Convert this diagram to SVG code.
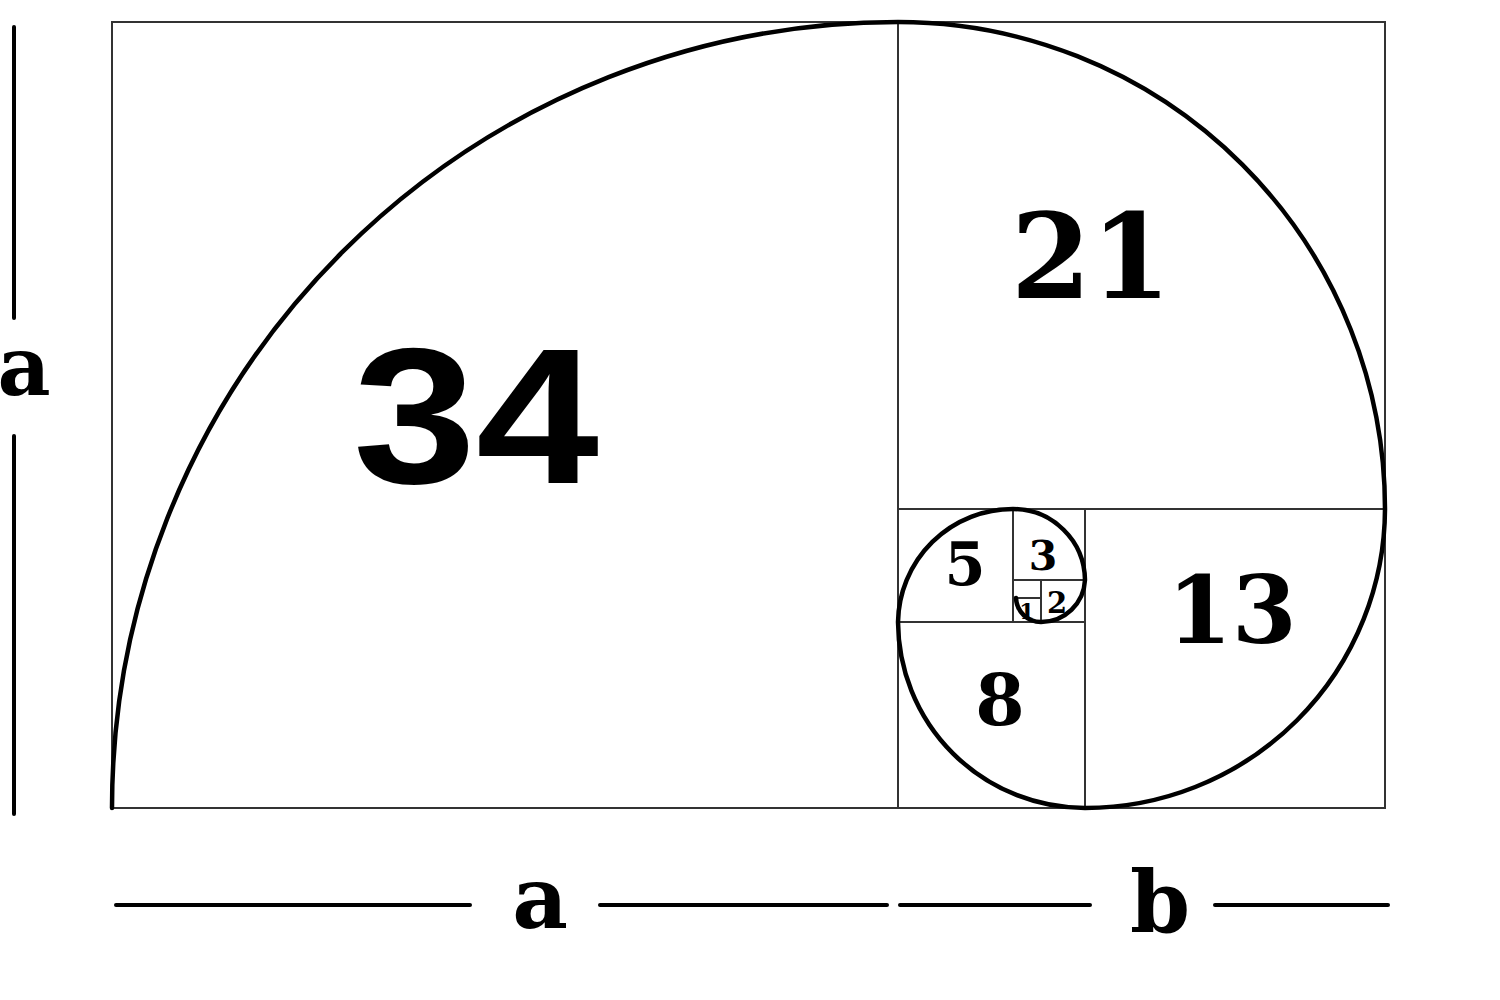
<svg xmlns="http://www.w3.org/2000/svg" width="1500" height="1000" viewBox="0 0 1500 1000">
<style>
.sq{fill:none;stroke:#333;stroke-width:2}
.sp{fill:none;stroke:#000;stroke-width:4.5;stroke-linecap:round}
.dim{stroke:#000;stroke-width:4;stroke-linecap:round}
.num{font-family:"DejaVu Serif","Liberation Serif",serif;font-weight:bold;fill:#000;text-anchor:middle}
.big{font-family:"Liberation Sans","DejaVu Sans",sans-serif;font-weight:bold;fill:#000;text-anchor:middle}
</style>
<rect width="1500" height="1000" fill="#fff"/>
<g id="squares">
<g id="sq34"><rect class="sq" x="112" y="22" width="786" height="786"/><text class="big" x="476" y="483" font-size="193" textLength="246" lengthAdjust="spacingAndGlyphs">34</text></g>
<g id="sq21"><rect class="sq" x="898" y="22" width="487" height="487"/><text class="num" x="1091" y="298" font-size="117" textLength="160" lengthAdjust="spacingAndGlyphs">21</text></g>
<g id="sq13"><rect class="sq" x="1085" y="509" width="300" height="299"/><text class="num" x="1232" y="643" font-size="93">13</text></g>
<g id="sq8"><rect class="sq" x="898" y="622" width="187" height="186"/><text class="num" x="1000" y="725" font-size="71">8</text></g>
<g id="sq5"><rect class="sq" x="898" y="509" width="115" height="113"/><text class="num" x="965" y="585" font-size="59">5</text></g>
<g id="sq3"><rect class="sq" x="1013" y="509" width="72" height="71"/><text class="num" x="1043" y="570" font-size="41">3</text></g>
<g id="sq2"><rect class="sq" x="1041" y="580" width="44" height="42"/><text class="num" x="1057" y="613" font-size="29">2</text></g>
<g id="sq1a"><rect class="sq" x="1013" y="580" width="28" height="18"/></g>
<g id="sq1b"><rect class="sq" x="1013" y="598" width="28" height="24"/><text class="num" x="1027" y="619" font-size="22">1</text></g>
</g>
<g id="connectors">
<path class="sp" d="M112,808 A786,786 0 0 1 898,22 A487,487 0 0 1 1385,509 A300,300 0 0 1 1085,808 A187,187 0 0 1 898,622 A115,115 0 0 1 1013,509 A72,72 0 0 1 1085,580 A44,44 0 0 1 1041,622 A25,25 0 0 1 1016,598"/>
<line class="dim" x1="14" y1="27" x2="14" y2="318"/>
<line class="dim" x1="14" y1="436" x2="14" y2="814"/>
<line class="dim" x1="116" y1="905" x2="470" y2="905"/>
<line class="dim" x1="600" y1="905" x2="887" y2="905"/>
<line class="dim" x1="900" y1="905" x2="1090" y2="905"/>
<line class="dim" x1="1215" y1="905" x2="1388" y2="905"/>
</g>
<g id="labels">
<text class="num" x="24" y="395" font-size="82">a</text>
<text class="num" x="540" y="928" font-size="86">a</text>
<text class="num" x="1160" y="933" font-size="86">b</text>
</g>
</svg>
